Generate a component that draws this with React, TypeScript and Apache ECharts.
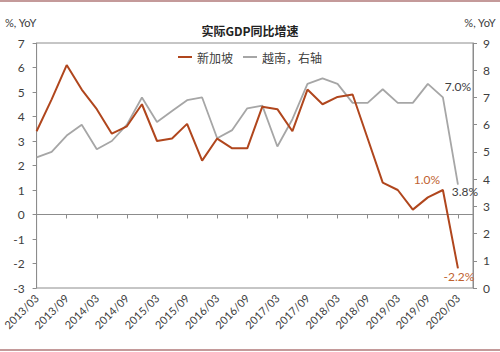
import React, { useEffect, useRef } from "react";
import * as echarts from "echarts";

const categories = [
  "2013/03", "2013/06", "2013/09", "2013/12",
  "2014/03", "2014/06", "2014/09", "2014/12",
  "2015/03", "2015/06", "2015/09", "2015/12",
  "2016/03", "2016/06", "2016/09", "2016/12",
  "2017/03", "2017/06", "2017/09", "2017/12",
  "2018/03", "2018/06", "2018/09", "2018/12",
  "2019/03", "2019/06", "2019/09", "2019/12",
  "2020/03", "2020/06",
];

const singapore: (number | null)[] = [
  3.4, 4.7, 6.1, 5.1, 4.3, 3.3, 3.6, 4.5, 3.0, 3.1, 3.7, 2.2, 3.1, 2.7, 2.7,
  4.4, 4.3, 3.4, 5.1, 4.5, 4.8, 4.9, 3.1, 1.3, 1.0, 0.2, 0.7, 1.0, -2.2, null,
];

const vietnam: (number | null)[] = [
  4.8, 5.0, 5.6, 6.0, 5.1, 5.4, 6.0, 7.0, 6.1, 6.5, 6.9, 7.0, 5.5, 5.8, 6.6,
  6.7, 5.2, 6.2, 7.5, 7.7, 7.5, 6.8, 6.8, 7.3, 6.8, 6.8, 7.5, 7.0, 3.8, null,
];

const titleText = "实际GDP同比增速";
const axisUnit = "%, YoY";
const seriesNames = ["新加坡", "越南，右轴"];

const RED = "#B0461D";
const RED_LABEL = "#C0622F";
const GREY = "#A6A6A6";
const TEXT = "#404040";
const AXIS = "#8C8C8C";
const FONT = "Lato, 'Noto Sans', sans-serif";
const CJK = "'Noto Sans CJK SC', sans-serif";

export default function App() {
  const ref = useRef<HTMLDivElement>(null);

  useEffect(() => {
    document.body.style.margin = "0";
    if (!ref.current) return;
    const chart = echarts.init(ref.current, null, { renderer: "svg" });

    const lastIdx = 28;
    const fmt = (p: any) => Number(p.value).toFixed(1) + "%";
    const withLabels = (arr: (number | null)[], color: string, o27: any, o28: any) =>
      arr.map((v, i) => {
        if (i === 27 || i === lastIdx) {
          const o = i === 27 ? o27 : o28;
          return {
            value: v,
            label: {
              show: true, position: o.position, offset: o.offset,
              formatter: fmt, color, fontSize: 12, fontFamily: FONT,
            },
          };
        }
        return v;
      });

    const sgData = withLabels(singapore, RED_LABEL,
      { position: "top", offset: [-16, 0] },
      { position: "bottom", offset: [1, -3] });
    const vnData = withLabels(vietnam, TEXT,
      { position: "top", offset: [15, 0] },
      { position: "bottom", offset: [7, -4] });

    chart.setOption({
      animation: false,
      backgroundColor: "#ffffff",
      title: {
        text: titleText,
        left: "center",
        top: 19,
        textStyle: { fontSize: 12, fontWeight: "bold", color: "#222", fontFamily: CJK },
      },
      legend: {
        top: 46,
        left: "center",
        itemWidth: 14,
        itemHeight: 2,
        itemGap: 10,
        icon: "rect",
        textStyle: { fontSize: 12, color: TEXT, fontFamily: CJK },
        data: seriesNames,
      },
      graphic: [
        { type: "text", left: 5, top: 17, style: { text: axisUnit, fontSize: 11, fill: TEXT, fontFamily: FONT } },
        { type: "text", right: 4, top: 17, style: { text: axisUnit, fontSize: 11, fill: TEXT, fontFamily: FONT } },
        { type: "line", shape: { x1: 0, y1: 1, x2: 500, y2: 1 }, style: { stroke: "#C49A9A", lineWidth: 2 } },
        { type: "line", shape: { x1: 0, y1: 350, x2: 500, y2: 350 }, style: { stroke: "#C49A9A", lineWidth: 2 } },
      ],
      grid: {
        left: 34, right: 27, top: 43, bottom: 64,
        show: true, borderColor: AXIS, borderWidth: 1,
        containLabel: false,
      },
      xAxis: [
        {
          type: "category",
          data: categories,
          boundaryGap: false,
          position: "bottom",
          axisLine: { show: false, onZero: false },
          axisTick: { show: false },
          axisLabel: {
            interval: 1, rotate: 45, margin: 8,
            fontSize: 11, color: TEXT, fontFamily: FONT,
          },
          splitLine: { show: false },
        },
        {
          type: "category",
          data: categories,
          boundaryGap: false,
          position: "bottom",
          axisLine: { show: true, onZero: true, onZeroAxisIndex: 0, lineStyle: { color: AXIS, width: 1 } },
          axisTick: { show: true, interval: 1, length: 4, lineStyle: { color: AXIS } },
          axisLabel: { show: false },
          splitLine: { show: false },
        },
      ],
      yAxis: [
        {
          type: "value",
          min: -3, max: 7, interval: 1,
          position: "left",
          axisLine: { show: true, lineStyle: { color: AXIS } },
          axisTick: { show: true, length: 4, lineStyle: { color: AXIS } },
          axisLabel: { margin: 12, fontSize: 12, color: TEXT, fontFamily: FONT },
          splitLine: { show: false },
        },
        {
          type: "value",
          min: 0, max: 9, interval: 1,
          position: "right",
          axisLine: { show: true, lineStyle: { color: AXIS } },
          axisTick: { show: true, length: 4, lineStyle: { color: AXIS } },
          axisLabel: { margin: 10, fontSize: 12, color: TEXT, fontFamily: FONT },
          splitLine: { show: false },
        },
      ],
      series: [
        {
          name: seriesNames[0],
          type: "line",
          xAxisIndex: 0,
          yAxisIndex: 0,
          data: sgData,
          showSymbol: true,
          symbol: "circle",
          symbolSize: 0,
          lineStyle: { color: RED, width: 2 },
          itemStyle: { color: RED },
          z: 3,
        },
        {
          name: seriesNames[1],
          type: "line",
          xAxisIndex: 0,
          yAxisIndex: 1,
          data: vnData,
          showSymbol: true,
          symbol: "circle",
          symbolSize: 0,
          lineStyle: { color: GREY, width: 1.8 },
          itemStyle: { color: GREY },
          z: 2,
        },
      ],
    });

    return () => chart.dispose();
  }, []);

  return (
    <div
      ref={ref}
      style={{ position: "absolute", left: 0, top: 0, width: 500, height: 352 }}
    />
  );
}
